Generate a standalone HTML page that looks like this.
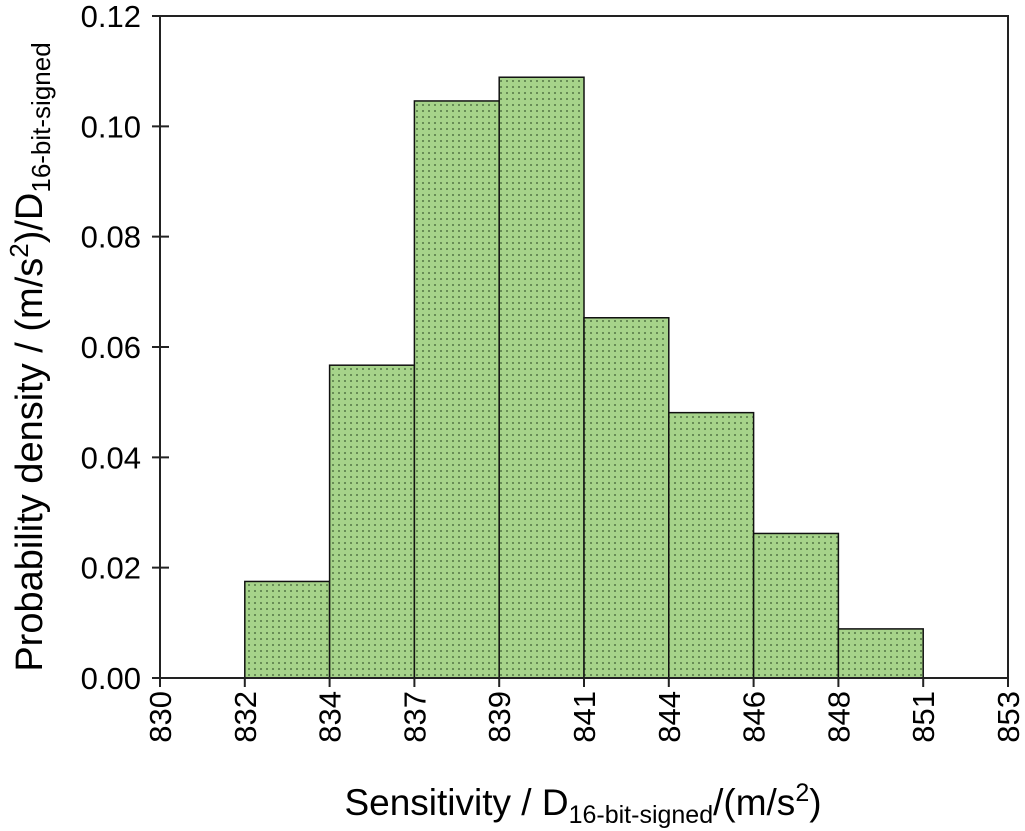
<!DOCTYPE html>
<html><head><meta charset="utf-8"><style>
body{margin:0;background:#fff}
svg{display:block;font-family:"Liberation Sans",Arial,sans-serif}
</style></head><body>
<svg id="chart" width="1025" height="831">
<defs><pattern id="dots" width="6" height="6" patternUnits="userSpaceOnUse"><rect width="6" height="6" fill="#a6d38a"/><circle cx="3" cy="3" r="0.9" fill="#3a5a30"/></pattern></defs>
<g id="bars"></g><g id="axes"></g>
<text x="583" y="815" font-size="37" text-anchor="middle">Sensitivity / D<tspan font-size="25" dy="8">16-bit-signed</tspan><tspan dy="-8">/(m/s</tspan><tspan font-size="25" dy="-14">2</tspan><tspan dy="14">)</tspan></text>
<text transform="translate(42,357) rotate(-90)" font-size="38" text-anchor="middle">Probability density / (m/s<tspan font-size="26" dy="-14">2</tspan><tspan dy="14">)/D</tspan><tspan font-size="26" dy="8">16-bit-signed</tspan></text>
</svg>
<script>
const tickLabels=["830","832","834","837","839","841","844","846","848","851","853"];
const binStart=[1,2,3,4,5,6,7,8];
const densities=[0.0175,0.0567,0.1046,0.1089,0.0653,0.0481,0.0262,0.0089];
const yTicks=[0,0.02,0.04,0.06,0.08,0.10,0.12];
const L=160,R=1008,T=16,B=678;
const xs=i=>L+i*(R-L)/(tickLabels.length-1);
const ys=v=>B-v/0.12*(B-T);
const NS="http://www.w3.org/2000/svg";
const bars=document.getElementById('bars'),axes=document.getElementById('axes');
function mk(p,tag,a){const e=document.createElementNS(NS,tag);for(const k in a)e.setAttribute(k,a[k]);p.appendChild(e);return e;}
densities.forEach((d,i)=>{
 const r=mk(bars,'rect',{x:xs(binStart[i]),y:ys(d),width:xs(binStart[i]+1)-xs(binStart[i]),height:B-ys(d),fill:'url(#dots)',stroke:'#111','stroke-width':1.5});
 
 
});
const fr=mk(axes,'rect',{x:L,y:T,width:R-L,height:B-T,fill:'none',stroke:'#222','stroke-width':2});


yTicks.forEach(v=>{
 mk(axes,'line',{x1:L-8,x2:L+9,y1:ys(v),y2:ys(v),stroke:'#222','stroke-width':2});
 const t=mk(axes,'text',{x:141,y:ys(v)+11,'font-size':31,'text-anchor':'end'});
 t.textContent=v.toFixed(2);
 
 
});
tickLabels.forEach((s,i)=>{
 mk(axes,'line',{x1:xs(i),x2:xs(i),y1:B,y2:B+9,stroke:'#222','stroke-width':2});
 const t=mk(axes,'text',{transform:`translate(${xs(i)+11},${691}) rotate(-90)`,'font-size':31,'text-anchor':'end'});
 t.textContent=s;
 
 
});
</script>
</body></html>
